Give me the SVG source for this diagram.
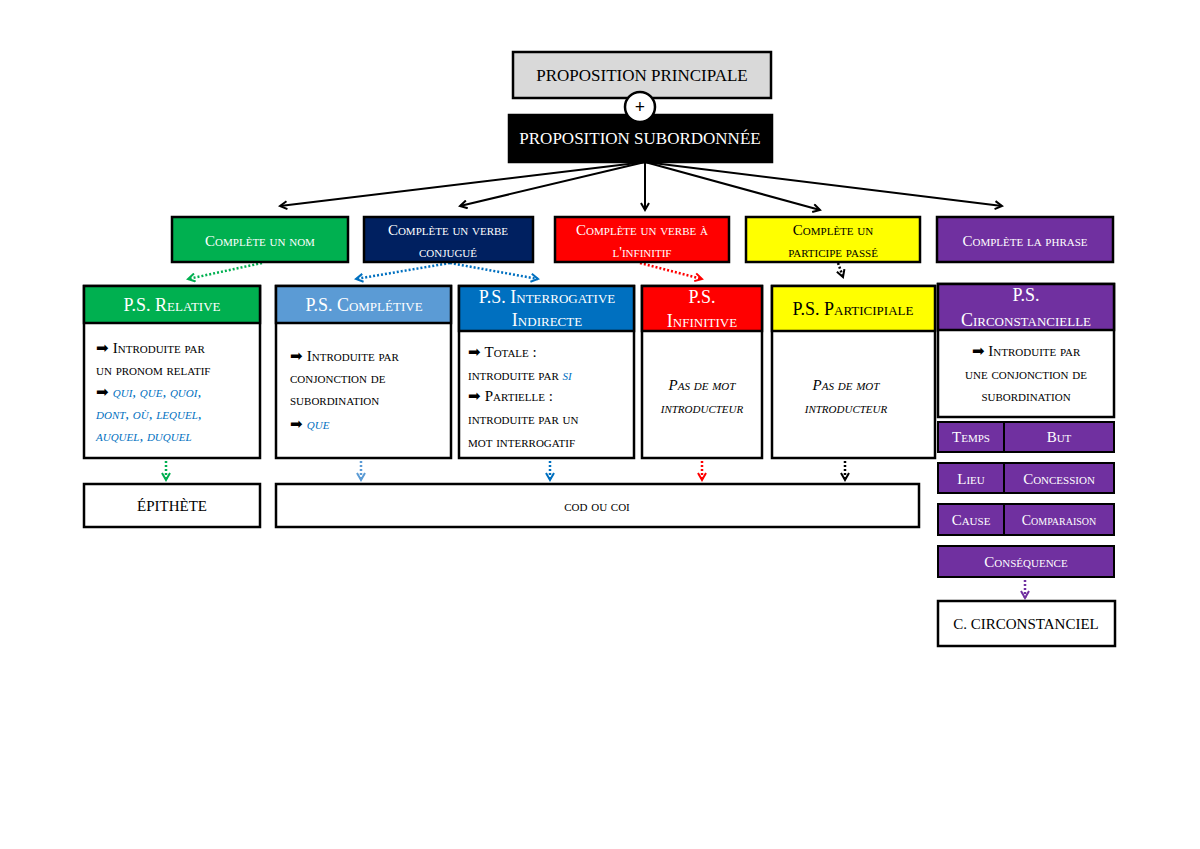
<svg xmlns="http://www.w3.org/2000/svg" width="1200" height="849" viewBox="0 0 1200 849">
<style>
text{font-family:"Liberation Serif",serif;font-variant:small-caps;text-anchor:middle;font-size:15px}
.b{stroke:#000;stroke-width:2.5}
.w{fill:#fff}.k{fill:#000}
.h{font-size:18px}
.bl{fill:#0070c0;font-style:italic}
.i{font-style:italic}
.l{text-anchor:start}
.c{fill:#7030a0;stroke:#000;stroke-width:2}
</style>
<defs>
<marker id="a" markerWidth="10" markerHeight="10" refX="8" refY="5" orient="auto" markerUnits="userSpaceOnUse"><path d="M1,1 L8,5 L1,9" fill="none" stroke="context-stroke" stroke-width="2"/></marker>
</defs>
<rect width="1200" height="849" fill="#fff"/>
<g id="top">
<rect x="513" y="52" width="258" height="46" fill="#d9d9d9" class="b"/>
<text x="642" y="81" class="h" style="font-size:17px">PROPOSITION PRINCIPALE</text>
<rect x="509" y="115" width="263" height="47" class="b k"/>
<text x="640" y="144" fill="#fff" style="font-size:17px">PROPOSITION SUBORDONNÉE</text>
<circle cx="640" cy="107" r="15" class="b w"/>
<text x="640" y="113" style="font-size:18px;font-weight:bold">+</text>
</g>
<g id="connectors" fill="none">
<g stroke="#000" stroke-width="2" marker-end="url(#a)">
<line x1="645" y1="162" x2="280" y2="206"/>
<line x1="645" y1="162" x2="460" y2="206"/>
<line x1="645" y1="162" x2="645" y2="210"/>
<line x1="645" y1="162" x2="820" y2="210"/>
<line x1="645" y1="162" x2="1002" y2="206"/>
</g>
<g stroke-width="2.5" stroke-dasharray="2 2" marker-end="url(#a)">
<line x1="262" y1="263" x2="188" y2="279" stroke="#00b050"/>
<line x1="450" y1="263" x2="356" y2="279" stroke="#0070c0"/>
<line x1="450" y1="263" x2="538" y2="279" stroke="#0070c0"/>
<line x1="640" y1="263" x2="702" y2="279" stroke="#ff0000"/>
<line x1="838" y1="263" x2="843" y2="277" stroke="#000"/>
<line x1="166" y1="461" x2="166" y2="480" stroke="#00b050"/>
<line x1="361" y1="461" x2="361" y2="480" stroke="#5b9bd5"/>
<line x1="550" y1="461" x2="550" y2="480" stroke="#0070c0"/>
<line x1="702" y1="461" x2="702" y2="480" stroke="#ff0000"/>
<line x1="845" y1="461" x2="845" y2="480" stroke="#000"/>
<line x1="1025" y1="580" x2="1025" y2="598" stroke="#7030a0"/>
</g>
</g>
<g id="cat-nom"><rect x="172" y="217" width="176" height="45" fill="#00b050" class="b"/><text x="260" y="246" fill="#fff">Complète un nom</text></g>
<g id="cat-verbe"><rect x="364" y="217" width="169" height="45" fill="#002060" class="b"/><text x="448" y="235" fill="#fff">Complète un verbe</text><text x="448" y="257" fill="#fff">conjugué</text></g>
<g id="cat-inf"><rect x="555" y="217" width="174" height="45" fill="#ff0000" class="b"/><text x="642" y="235" fill="#fff">Complète un verbe à</text><text x="642" y="257" fill="#fff">l'infinitif</text></g>
<g id="cat-part"><rect x="746" y="217" width="174" height="45" fill="#ffff00" class="b"/><text x="833" y="235">Complète un</text><text x="833" y="257">participe passé</text></g>
<g id="cat-phrase"><rect x="937" y="217" width="176" height="45" fill="#7030a0" class="b"/><text x="1025" y="246" fill="#fff">Complète la phrase</text></g>

<g id="relative"><rect x="84" y="286" width="176" height="172" class="b w"/><rect x="84" y="286" width="176" height="37" fill="#00b050" class="b"/>
<text x="172" y="311" class="h" fill="#fff">P.S. Relative</text>
<text x="96" y="353" class="l">➡ Introduite par</text><text x="96" y="375" class="l">un pronom relatif</text>
<text x="96" y="397" class="l">➡ <tspan class="bl">qui, que, quoi,</tspan></text>
<text x="96" y="419" class="l bl">dont, où, lequel,</text><text x="96" y="441" class="l bl">auquel, duquel</text></g>
<g id="completive"><rect x="276" y="286" width="175" height="172" class="b w"/><rect x="276" y="286" width="175" height="37" fill="#5b9bd5" class="b"/>
<text x="364" y="311" class="h" fill="#fff">P.S. Complétive</text>
<text x="290" y="361" class="l">➡ Introduite par</text><text x="290" y="383" class="l">conjonction de</text><text x="290" y="405" class="l">subordination</text><text x="290" y="429" class="l">➡ <tspan class="bl">que</tspan></text></g>
<g id="interrogative"><rect x="459" y="286" width="175" height="172" class="b w"/><rect x="459" y="286" width="175" height="45" fill="#0070c0" class="b"/>
<text x="547" y="303" class="h" fill="#fff">P.S. Interrogative</text><text x="547" y="326" class="h" fill="#fff">Indirecte</text>
<text x="468" y="357" class="l">➡ Totale :</text><text x="468" y="380" class="l">introduite par <tspan class="bl">si</tspan></text>
<text x="468" y="401" class="l">➡ Partielle :</text><text x="468" y="424" class="l">introduite par un</text><text x="468" y="447" class="l">mot interrogatif</text></g>
<g id="infinitive"><rect x="642" y="286" width="120" height="172" class="b w"/><rect x="642" y="286" width="120" height="45" fill="#ff0000" class="b"/>
<text x="702" y="303" class="h" fill="#fff">P.S.</text><text x="702" y="327" class="h" fill="#fff">Infinitive</text>
<text x="702" y="390" class="i">Pas de mot</text><text x="702" y="413" class="i">introducteur</text></g>
<g id="participiale"><rect x="772" y="286" width="163" height="172" class="b w"/><rect x="772" y="286" width="163" height="45" fill="#ffff00" class="b"/>
<text x="853" y="315" class="h">P.S. Participiale</text>
<text x="846" y="390" class="i">Pas de mot</text><text x="846" y="413" class="i">introducteur</text></g>
<g id="circ"><rect x="938" y="284" width="176" height="133" class="b w"/><rect x="938" y="284" width="176" height="46" fill="#7030a0" class="b"/>
<text x="1026" y="301" class="h" fill="#fff">P.S.</text><text x="1026" y="326" class="h" fill="#fff">Circonstancielle</text>
<text x="1026" y="356">➡ Introduite par</text><text x="1026" y="379">une conjonction de</text><text x="1026" y="401">subordination</text></g>
<g id="types" fill="#fff">
<rect x="938" y="422" width="66" height="30" class="c"/><rect x="1004" y="422" width="110" height="30" class="c"/>
<rect x="938" y="463" width="66" height="30" class="c"/><rect x="1004" y="463" width="110" height="30" class="c"/>
<rect x="938" y="504" width="66" height="31" class="c"/><rect x="1004" y="504" width="110" height="31" class="c"/>
<rect x="938" y="546" width="176" height="31" class="c"/>
<text x="971" y="442" fill="#fff">Temps</text><text x="1059" y="442" fill="#fff">But</text>
<text x="971" y="484" fill="#fff">Lieu</text><text x="1059" y="484" fill="#fff">Concession</text>
<text x="971" y="525" fill="#fff">Cause</text><text x="1059" y="525" fill="#fff" style="font-size:14px">Comparaison</text>
<text x="1026" y="567" fill="#fff">Conséquence</text></g>
<g id="epithete"><rect x="84" y="484" width="176" height="43" class="b w"/><text x="172" y="511">ÉPITHÈTE</text></g>
<g id="cod"><rect x="276" y="484" width="643" height="43" class="b w"/><text x="597" y="511">cod ou coi</text></g>
<g id="cc"><rect x="938" y="601" width="177" height="45" class="b w"/><text x="1026" y="629">C. CIRCONSTANCIEL</text></g>
</svg>
